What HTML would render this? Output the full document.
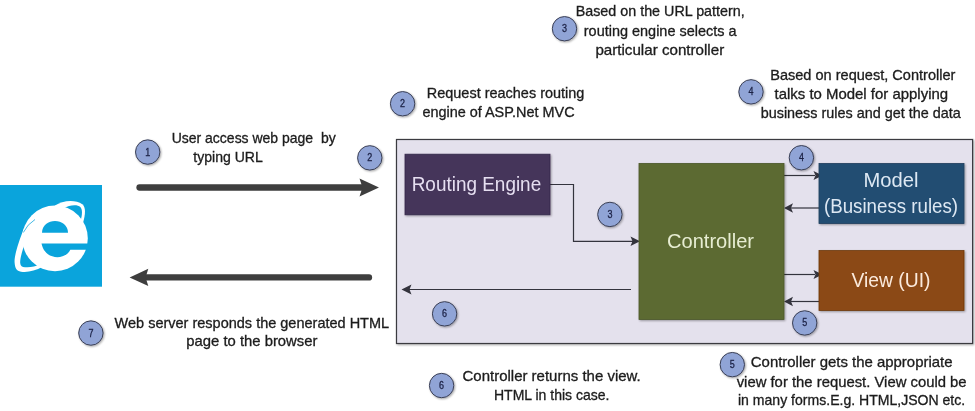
<!DOCTYPE html>
<html>
<head>
<meta charset="utf-8">
<title>ASP.Net MVC request flow</title>
<style>
html,body{margin:0;padding:0;background:#ffffff;}
body{width:975px;height:411px;overflow:hidden;font-family:"Liberation Sans",sans-serif;}
svg{display:block;opacity:0.999;}
text{font-family:"Liberation Sans",sans-serif;white-space:pre;}
.t{font-size:13.9px;fill:#1c1c1c;stroke:#1c1c1c;stroke-width:0.3;}
.n{font-size:10px;fill:#1c2246;stroke:#1c2246;stroke-width:0.3;text-anchor:middle;}
.b{font-size:19.5px;}
.c{fill:#90a4d6;stroke:#3a3f55;stroke-width:1;}
.ln{stroke:#33333d;stroke-width:1.2;fill:none;}
.ah{fill:#33333d;}
</style>
</head>
<body>
<svg width="975" height="411" viewBox="0 0 975 411" xml:space="preserve">
<defs>
<filter id="sh" x="-10%" y="-10%" width="125%" height="125%">
<feGaussianBlur in="SourceAlpha" stdDeviation="1.2"/>
<feOffset dx="1" dy="1"/>
<feComponentTransfer><feFuncA type="linear" slope="0.35"/></feComponentTransfer>
<feMerge><feMergeNode/><feMergeNode in="SourceGraphic"/></feMerge>
</filter>
</defs>
<rect width="975" height="411" fill="#ffffff"/>
<!-- IE tile -->
<g id="ie">
<rect x="0" y="185" width="102" height="101.7" fill="#0aa4dc"/>
<path fill="#ffffff" d="M55 205.6 C62 200.5 75 198.8 82.3 204.3 C86 207.5 85.5 214 83 223 L55 238Z"/>
<path fill="#0aa4dc" d="M64 208 C69 205 77.5 204 80.3 207 C82.5 209.5 82.5 214 80.500 221 L60 235Z"/>
<path fill="#ffffff" d="M24 228 C19 241 14 256 14.6 262.5 C15 268.5 16.5 271 21 271.7 C28 272.5 35 271 43 266.5 L55 238Z"/>
<path fill="#0aa4dc" d="M25 243 C22.5 250 19.8 259 20.2 263 C20.5 266 22 267 25 267.2 C30 267.5 35 267 41 264 L55 238Z"/>
<circle cx="55" cy="238.4" r="32.8" fill="#ffffff"/>
<path fill="#0aa4dc" d="M42 232.8 C42 217 68 217 68 232.8Z"/>
<path fill="#0aa4dc" d="M41.5 243.6 H92 V249.7 H70.3 C66 260 45 261 41.5 243.6Z"/>
<path fill="none" stroke="#0aa4dc" stroke-width="0.9" stroke-opacity="0.85" d="M23.3 232.5 A31.5 31.5 0 0 1 35 219.5"/>
</g>
<!-- container -->
<rect x="396.5" y="139.5" width="576.1" height="204" fill="#e4e1ed" stroke="#3a3a40" stroke-width="1.2" filter="url(#sh)"/>

<!-- thin connectors -->
<path class="ln" d="M549.5 184.5 H573.5 V241.3 H633"/>
<path class="ah" d="M640 241.3 L630.5 236.5 L632.5 241.3 L630.5 246.1Z"/>
<path class="ln" d="M784 175.5 H815"/>
<path class="ah" d="M822.5 175.5 L813.5 171 L815.5 175.5 L813.5 180Z"/>
<path class="ln" d="M819 208 H790"/>
<path class="ah" d="M784 208 L793 203.3 L791 208 L793 212.7Z"/>
<path class="ln" d="M784 274.5 H815"/>
<path class="ah" d="M822.5 274.5 L813.5 270 L815.5 274.5 L813.5 279Z"/>
<path class="ln" d="M819 301.5 H790"/>
<path class="ah" d="M784 301.5 L793 296.8 L791 301.5 L793 306.2Z"/>
<path class="ln" d="M631 289.5 H408"/>
<path class="ah" d="M401.5 289.5 L411.5 284.5 L409.5 289.5 L411.5 294.5Z"/>

<!-- boxes -->
<rect x="405" y="154.2" width="145" height="60.6" fill="#44355a" stroke="#35294a" stroke-width="0.8" filter="url(#sh)"/>
<rect x="639" y="163.5" width="145" height="156" fill="#5c6b32" stroke="#4a5628" stroke-width="0.8" filter="url(#sh)"/>
<rect x="819" y="163.5" width="145" height="60" fill="#244e72" stroke="#1c3e5c" stroke-width="0.8" filter="url(#sh)"/>
<rect x="819" y="250.5" width="145" height="60" fill="#8b4813" stroke="#6e390f" stroke-width="0.8" filter="url(#sh)"/>

<!-- box labels -->
<text class="b" fill="#e6dff1" x="411.7" y="190.7" textLength="129.5" lengthAdjust="spacingAndGlyphs">Routing Engine</text>
<text class="b" fill="#e7edd2" x="667" y="247.5" textLength="87" lengthAdjust="spacingAndGlyphs">Controller</text>
<text class="b" fill="#dde8f3" x="863.5" y="187" textLength="55" lengthAdjust="spacingAndGlyphs">Model</text>
<text class="b" fill="#dde8f3" x="824" y="213" textLength="134" lengthAdjust="spacingAndGlyphs">(Business rules)</text>
<text class="b" fill="#fbeadc" x="851.5" y="286.5" textLength="79" lengthAdjust="spacingAndGlyphs">View (UI)</text>

<!-- thick arrows -->
<path d="M139.5 187.5 H362" stroke="#3e3e3e" stroke-width="6.3" stroke-linecap="round" fill="none"/>
<path d="M379 187.5 L359.5 178.5 L362.5 187.5 L359.5 196.5Z" fill="#3e3e3e"/>
<path d="M369 277.4 H146" stroke="#3e3e3e" stroke-width="6.3" stroke-linecap="round" fill="none"/>
<path d="M129.6 277.4 L148.3 268.8 L145.6 277.4 L148.3 286Z" fill="#3e3e3e"/>

<!-- numbered circles -->
<g filter="url(#sh)">
<circle class="c" cx="147.7" cy="152.05" r="12.2"/>
<circle class="c" cx="369.8" cy="157.85" r="12.2"/>
<circle class="c" cx="402.6" cy="103.75" r="12.2"/>
<circle class="c" cx="564.5" cy="28.75" r="12.2"/>
<circle class="c" cx="751" cy="91.85" r="12.2"/>
<circle class="c" cx="801.4" cy="157.75" r="12.2"/>
<circle class="c" cx="609.9" cy="214.45" r="12.2"/>
<circle class="c" cx="804.7" cy="322.95" r="12.2"/>
<circle class="c" cx="732.3" cy="364.65" r="12.2"/>
<circle class="c" cx="444.6" cy="313.85" r="12.2"/>
<circle class="c" cx="441.6" cy="385.55" r="12.2"/>
<circle class="c" cx="90.9" cy="333.05" r="12.2"/>
</g>
<text class="n" x="147.7" y="155.55" textLength="5" lengthAdjust="spacingAndGlyphs">1</text>
<text class="n" x="369.8" y="161.35" textLength="5" lengthAdjust="spacingAndGlyphs">2</text>
<text class="n" x="402.6" y="107.25" textLength="5" lengthAdjust="spacingAndGlyphs">2</text>
<text class="n" x="564.5" y="32.25" textLength="5" lengthAdjust="spacingAndGlyphs">3</text>
<text class="n" x="751" y="95.35" textLength="5" lengthAdjust="spacingAndGlyphs">4</text>
<text class="n" x="801.4" y="161.25" textLength="5" lengthAdjust="spacingAndGlyphs">4</text>
<text class="n" x="609.9" y="217.95" textLength="5" lengthAdjust="spacingAndGlyphs">3</text>
<text class="n" x="804.7" y="326.45" textLength="5" lengthAdjust="spacingAndGlyphs">5</text>
<text class="n" x="732.3" y="368.15" textLength="5" lengthAdjust="spacingAndGlyphs">5</text>
<text class="n" x="444.6" y="317.35" textLength="5" lengthAdjust="spacingAndGlyphs">6</text>
<text class="n" x="441.6" y="389.05" textLength="5" lengthAdjust="spacingAndGlyphs">6</text>
<text class="n" x="90.9" y="336.55" textLength="5" lengthAdjust="spacingAndGlyphs">7</text>

<!-- captions -->
<text class="t" x="171.7" y="143" textLength="164" lengthAdjust="spacingAndGlyphs">User access web page  by</text>
<text class="t" x="193.3" y="162.2" textLength="69.5" lengthAdjust="spacingAndGlyphs">typing URL</text>
<text class="t" x="426.8" y="98.4" textLength="157.6" lengthAdjust="spacingAndGlyphs">Request reaches routing</text>
<text class="t" x="422.4" y="117.4" textLength="152.2" lengthAdjust="spacingAndGlyphs">engine of ASP.Net MVC</text>
<text class="t" x="575.7" y="16.4" textLength="169" lengthAdjust="spacingAndGlyphs">Based on the URL pattern,</text>
<text class="t" x="583.8" y="35.5" textLength="152.7" lengthAdjust="spacingAndGlyphs">routing engine selects a</text>
<text class="t" x="595.4" y="54.7" textLength="128.8" lengthAdjust="spacingAndGlyphs">particular controller</text>
<text class="t" x="770.2" y="80.1" textLength="185.2" lengthAdjust="spacingAndGlyphs">Based on request, Controller</text>
<text class="t" x="774.5" y="98.9" textLength="173.6" lengthAdjust="spacingAndGlyphs">talks to Model for applying</text>
<text class="t" x="760.7" y="117.8" textLength="200" lengthAdjust="spacingAndGlyphs">business rules and get the data</text>
<text class="t" x="750.8" y="367" textLength="201.7" lengthAdjust="spacingAndGlyphs">Controller gets the appropriate</text>
<text class="t" x="736.7" y="386.5" textLength="229.9" lengthAdjust="spacingAndGlyphs">view for the request. View could be</text>
<text class="t" x="738" y="405.1" textLength="227.2" lengthAdjust="spacingAndGlyphs">in many forms.E.g. HTML,JSON etc.</text>
<text class="t" x="462.5" y="381" textLength="178.2" lengthAdjust="spacingAndGlyphs">Controller returns the view.</text>
<text class="t" x="494" y="400" textLength="115.5" lengthAdjust="spacingAndGlyphs">HTML in this case.</text>
<text class="t" x="114.6" y="328.2" textLength="274.5" lengthAdjust="spacingAndGlyphs">Web server responds the generated HTML</text>
<text class="t" x="186.3" y="346.2" textLength="131.1" lengthAdjust="spacingAndGlyphs">page to the browser</text>
</svg>
</body>
</html>
